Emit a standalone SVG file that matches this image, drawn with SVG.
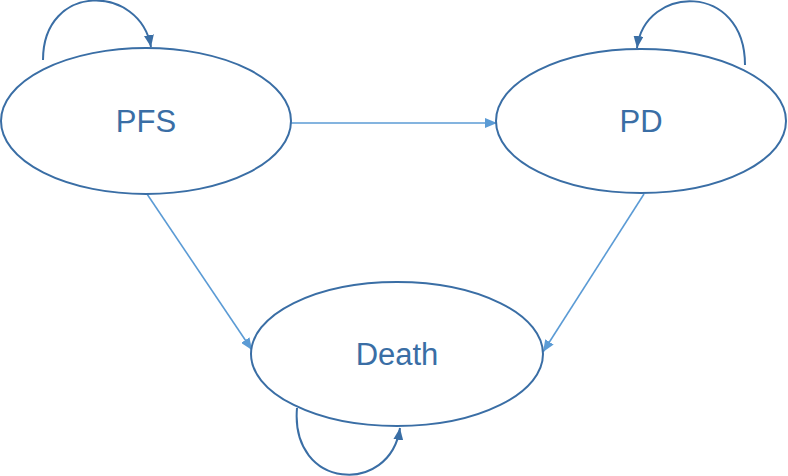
<svg xmlns="http://www.w3.org/2000/svg" width="788" height="476" viewBox="0 0 788 476">
<style>
.node{fill:#fff;stroke:#3a6ea5;stroke-width:2}
.lbl{font-family:"Liberation Sans",Arial,sans-serif;font-size:31px;fill:#3a6ea5;text-anchor:middle;dominant-baseline:central}
.edge{fill:none;stroke:#5b9bd5;stroke-width:1.6}
.loop{fill:none;stroke:#3a6ea5;stroke-width:2}
</style>
<defs>
<marker id="ah" viewBox="0 0 12 10" refX="12" refY="5" markerWidth="12" markerHeight="10" markerUnits="userSpaceOnUse" orient="auto"><path d="M0,0L12,5L0,10z" fill="#5b9bd5"/></marker>
<marker id="ahd" viewBox="0 0 12 10" refX="12" refY="5" markerWidth="12" markerHeight="10" markerUnits="userSpaceOnUse" orient="auto"><path d="M0,0L12,5L0,10z" fill="#3a6ea5"/></marker>
</defs>
<g id="connectors">
<path class="edge" d="M291,123L497,123" marker-end="url(#ah)"/>
<path class="edge" d="M147,194L252,350" marker-end="url(#ah)"/>
<path class="edge" d="M644,194L543,352" marker-end="url(#ah)"/>
<path class="loop" d="M43,60C43,-18 140,-16 151,47" marker-end="url(#ahd)"/>
<path class="loop" d="M745,65C745,-18 645,-16 637,48" marker-end="url(#ahd)"/>
<path class="loop" d="M297,408C290,490 390,496 400,428" marker-end="url(#ahd)"/>
</g>
<g id="PFS"><ellipse class="node" cx="146" cy="121" rx="145" ry="73"/><text class="lbl" x="146" y="121">PFS</text></g>
<g id="PD"><ellipse class="node" cx="641" cy="121" rx="145" ry="72"/><text class="lbl" x="641" y="121">PD</text></g>
<g id="Death"><ellipse class="node" cx="397" cy="354" rx="146" ry="72"/><text class="lbl" x="397" y="354">Death</text></g>
</svg>
